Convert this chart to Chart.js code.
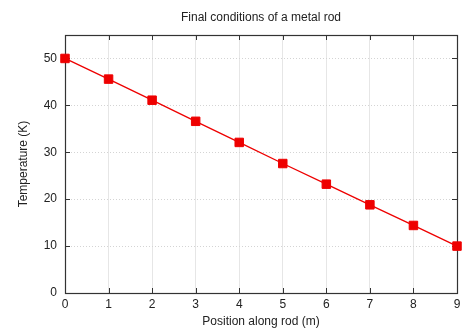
<!DOCTYPE html>
<html>
<head>
<meta charset="utf-8">
<script src="https://cdn.jsdelivr.net/npm/chart.js@4/dist/chart.umd.min.js"></script>
<style>
  html, body { margin: 0; padding: 0; background: #ffffff; }
  #wrap { width: 474px; height: 331px; }
</style>
</head>
<body>
<div id="wrap"><canvas id="c" width="474" height="331"></canvas></div>
<script>
const positions = [0, 1, 2, 3, 4, 5, 6, 7, 8, 9];
const temperatures = [50, 45.6, 41.1, 36.6, 32.1, 27.6, 23.2, 18.8, 14.4, 10];
const chartTitle = 'Final conditions of a metal rod';
const xTitle = 'Position along rod (m)';
const yTitle = 'Temperature (K)';

const FONT = "'Liberation Sans', Arial, Helvetica, sans-serif";
const TEXT = '#222222';

const frame = {
  id: 'frame',
  beforeDatasetsDraw(chart) {
    const ctx = chart.ctx;
    const a = chart.chartArea;
    const xs = chart.scales.x, ys = chart.scales.y;
    const L = 5;
    ctx.save();
    ctx.strokeStyle = '#333333';
    ctx.lineWidth = 1;
    ctx.beginPath();
    xs.ticks.forEach(t => {
      const px = Math.round(xs.getPixelForValue(t.value)) + 0.5;
      ctx.moveTo(px, a.bottom); ctx.lineTo(px, a.bottom - L);
      ctx.moveTo(px, a.top); ctx.lineTo(px, a.top + L);
    });
    ys.ticks.forEach(t => {
      const py = Math.round(ys.getPixelForValue(t.value)) + 0.5;
      ctx.moveTo(a.left, py); ctx.lineTo(a.left + L, py);
      ctx.moveTo(a.right, py); ctx.lineTo(a.right - L, py);
    });
    ctx.stroke();
    ctx.lineWidth = 1.2;
    ctx.strokeRect(Math.round(a.left) + 0.5, Math.round(a.top) + 0.5,
                   Math.round(a.right - a.left), Math.round(a.bottom - a.top));
    ctx.restore();
  },
  afterDraw(chart) {
    const ctx = chart.ctx;
    const a = chart.chartArea;
    ctx.save();
    ctx.fillStyle = TEXT;
    ctx.font = '12px ' + FONT;
    ctx.textAlign = 'center';
    ctx.textBaseline = 'middle';
    ctx.fillText(chartTitle, (a.left + a.right) / 2, 18);
    ctx.restore();
  }
};

new Chart(document.getElementById('c'), {
  type: 'line',
  data: {
    datasets: [{
      data: positions.map((p, i) => ({ x: p, y: temperatures[i] })),
      borderColor: '#ee0000',
      backgroundColor: '#ee0000',
      borderWidth: 1.3,
      pointStyle: 'rect',
      pointRadius: 6,
      pointBorderWidth: 1,
      pointBackgroundColor: '#ee0000',
      pointBorderColor: '#ee0000',
      tension: 0,
      clip: false
    }]
  },
  options: {
    responsive: false,
    animation: false,
    devicePixelRatio: 1,
    layout: { padding: { left: 0, right: 17, top: 35, bottom: 0 } },
    plugins: {
      legend: { display: false },
      tooltip: { enabled: false },
      title: { display: false }
    },
    scales: {
      x: {
        type: 'linear',
        min: 0, max: 9,
        border: { display: false },
        grid: { color: '#e6e6e6', drawTicks: false, lineWidth: 1 },
        ticks: { stepSize: 1, color: TEXT, font: { family: FONT, size: 12 }, padding: 4, maxRotation: 0 },
        title: { display: true, text: xTitle, color: TEXT, font: { family: FONT, size: 12 }, padding: { top: 0, bottom: 1.8 } },
        afterFit(s) { s.height = 38; }
      },
      y: {
        type: 'linear',
        min: 0, max: 55,
        border: { display: false, dash: [1, 2] },
        grid: { color: '#d4d4d4', drawTicks: false, lineWidth: 1 },
        ticks: { stepSize: 10, includeBounds: false, color: TEXT, font: { family: FONT, size: 12 }, padding: 8 },
        title: { display: true, text: yTitle, color: TEXT, font: { family: FONT, size: 12 }, padding: { top: 16.8, bottom: 0 } },
        afterFit(s) { s.width = 65; }
      }
    }
  },
  plugins: [frame]
});
</script>
</body>
</html>
